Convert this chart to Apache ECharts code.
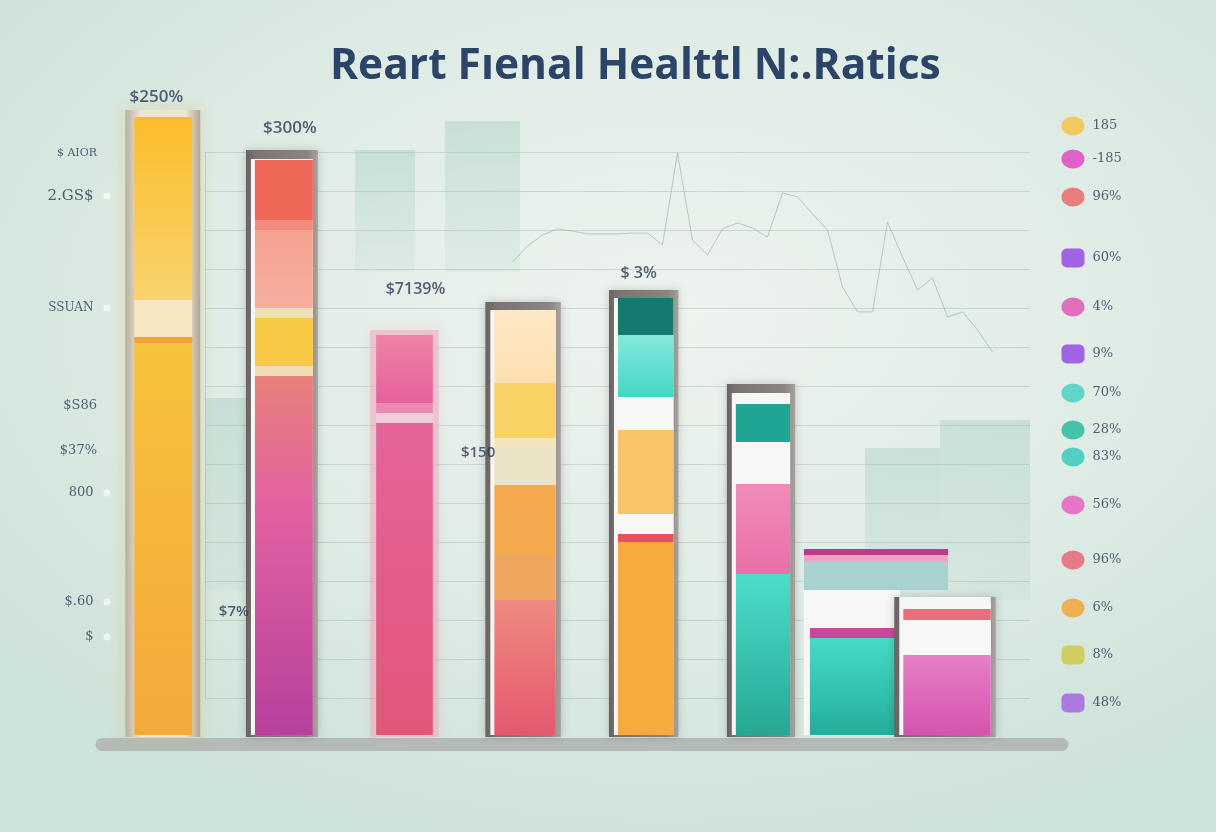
<!DOCTYPE html>
<html>
<head>
<meta charset="utf-8">
<title>Reart Fıenal Healttl N:.Ratics</title>
<script src="https://cdn.jsdelivr.net/npm/echarts@6/dist/echarts.min.js"></script>
<style>
  html, body { margin: 0; padding: 0; }
  body { background: radial-gradient(ellipse 70% 65% at 55% 38%, #eef3ee 0%, #dfece5 55%, #cde2d8 100%); }
  #chart { width: 1216px; height: 832px; }
</style>
</head>
<body>
<div id="chart"></div>
<script>
// ---- data -------------------------------------------------------------
const titleText = 'Reart Fıenal Healttl N:.Ratics';

const mainCategories = ['Q1', 'Q2', 'Q3', 'Q4', 'Q5'];
const groupCategories = ['G1', 'G2', 'G3'];

// stacked segment heights, bottom segment first
const yellowStack = [392, 6, 37, 183];
const roseStack = [359, 10, 48, 10, 78, 10, 60];
const pinkStack = [312, 10, 10, 68];
const amberStack = [135, 45, 70, 37, 10, 55, 73];
const orangeTealStack = [193, 8, 20, 84, 33, 62, 37];
const mintStack = [161, 90, 42, 38];
const wideStack = [97, 10, 38, 28, 7, 6];
const lowStack = [80, 35, 11, 6];
const frameTops = [625, 585, 405, 433, 445, 351, 186, 138];

// labels floating over the bars
const calloutTexts = ['$250%', '$300%', '$7139%', '$ 3%', '$150', '$7%'];
const calloutBars = [0, 1, 2, 4, 3, 1];
const calloutValues = [638, 607, 446, 462, 282, 123];

// left side scale labels
const leftTickLabels = ['$ AIOR', '2.GS$', 'SSUAN', '$S86', '$37%', '800', '$.60', '$'];
const leftTickValues = [582, 539, 427, 329, 284, 242, 133, 98];

// right side key
const keyTexts = ['185', '-185', '96%', '60%', '4%', '9%', '70%', '28%', '83%', '56%', '96%', '6%', '8%', '48%'];
const keyValues = [609, 576, 538, 477, 428, 381, 342, 305, 278, 230, 175, 127, 80, 32];

// faint background trend line and blocks
const bgBands = Array.from({length: 55}, (_, i) => 'b' + i);
const trendStart = 20;
const trendValues = [11.18, 11.59, 11.87, 12.03, 11.97, 11.9, 11.9, 11.9, 11.92, 11.92, 11.62, 13.97,
    11.74, 11.36, 12.03, 12.18, 12.05, 11.82, 12.95, 12.85, 12.41, 12.0, 10.54, 9.9, 9.9, 12.2,
    11.31, 10.46, 10.77, 9.77, 9.9, 9.44, 8.87];
const ghostBlocks = [
    [10, 13, 463, 585],
    [16, 20, 463, 614],
    [0, 2, 145, 337],
    [44, 48, 135, 287],
    [49, 54, 135, 315]
];

// ---- styles -----------------------------------------------------------
const vg = (top, bottom) => ({
    type: 'linear', x: 0, y: 0, x2: 0, y2: 1,
    colorStops: [{offset: 0, color: top}, {offset: 1, color: bottom}]
});
const stacks = [yellowStack, roseStack, pinkStack, amberStack, orangeTealStack, mintStack, wideStack, lowStack];
const palettes = [
    [vg('#f8c23a', '#f3a93c'), '#efa23a', '#f6e7c3', vg('#fbbd2c', '#f9d36e')],
    [{type: 'linear', x: 0, y: 0, x2: 0, y2: 1, colorStops: [
        {offset: 0, color: '#e8807a'}, {offset: 0.35, color: '#e262a0'}, {offset: 1, color: '#b8409e'}]},
        '#eedcb2', '#f7c844', '#eee0b6', vg('#f5a290', '#f6ae9e'), '#f08b7d', '#ee6656'],
    [vg('#e4649a', '#e2567a'), '#f3ccd7', '#ec88b6', vg('#ee82a6', '#e6619a')],
    [vg('#ef8a80', '#e4586f'), '#efa65e', '#f4aa4c', '#ece3c6', '#f3e5bb', '#f8d264', vg('#fde8c4', '#fde0b2')],
    ['#f5ab3e', '#e8515c', '#f7f7f5', '#f8c468', '#f7f7f5', vg('#85e8dd', '#42d6c4'), '#147a70'],
    [vg('#4ddccb', '#25a793'), vg('#f08bb9', '#e96fa8'), '#f7f7f5', '#20a595'],
    [vg('#46dbc6', '#23ad9b'), '#c7479b', '#f7f7f5', '#a9d1cf', '#f1a2c5', '#c2398b'],
    [vg('#e57fc8', '#d553ad'), '#f7f7f5', '#e96f7c', '#f6f6f4']
];
const barLooks = [
    {width: 0.48, frame: 'glow'},
    {width: 0.48, frame: 'dark', topPad: 9},
    {width: 0.47, frame: 'pink'},
    {width: 0.51, frame: 'dark', topPad: 8},
    {width: 0.46, frame: 'dark', topPad: 8},
    {width: 0.59, frame: 'dark', topPad: 9},
    {width: 0.98, frame: 'strip', wide: {from: 3, left: 6, right: 48}},
    {width: 0.95, frame: 'dark', topPad: 0}
];
const calloutOffsets = [[-7, 0], [6, 0], [11, 0], [-7, 0], [-47, 0], [-50, 0]];
const calloutSizes = [17, 17, 16, 16, 15, 15];
const leftLabelSizes = [11, 15, 12, 13, 13, 13, 13, 13];
const leftDots = [false, true, true, false, false, true, true, true];
const keyColors = ['#f8bf40', '#e040c0', '#ea6262', '#9040e0', '#e050b0', '#9040e0', '#40d0c0',
    '#20b898', '#30c8b8', '#e858c0', '#e86070', '#f5a030', '#d0c840', '#a060e0'];
const keySymbols = ['circle', 'circle', 'circle', 'roundRect', 'circle', 'roundRect', 'circle',
    'circle', 'circle', 'circle', 'circle', 'circle', 'roundRect', 'roundRect'];
const inkColor = '#2a3a57';

// ---- rendering --------------------------------------------------------
function renderStack(params, api) {
    const cat = api.value(0);
    const idx = api.value(1);
    const look = barLooks[idx];
    const band = api.size([1, 0])[0];
    const base = api.coord([cat, 0]);
    const w = band * look.width;
    const left = base[0] - w / 2;
    const y0 = base[1];
    const fy = api.coord([cat, frameTops[idx]])[1];
    const children = [];

    if (look.frame === 'dark') {
        children.push({
            type: 'rect',
            shape: {x: left - 9, y: fy, width: w + 14, height: y0 - fy + 2},
            style: {
                fill: {type: 'linear', x: 0, y: 0, x2: 1, y2: 0, colorStops: [
                    {offset: 0, color: '#6a6361'}, {offset: 0.15, color: '#7b7472'},
                    {offset: 0.85, color: '#8a8482'}, {offset: 1, color: '#a8a29f'}]},
                shadowBlur: 8, shadowColor: 'rgba(60,60,60,0.25)'
            }
        });
        children.push({
            type: 'rect',
            shape: {x: left - 4, y: fy + look.topPad, width: w + 4, height: y0 - fy - look.topPad},
            style: {fill: '#f6f7f5'}
        });
    } else if (look.frame === 'glow') {
        children.push({
            type: 'rect',
            shape: {x: left - 9, y: fy, width: w + 17, height: y0 - fy + 2},
            style: {
                fill: {type: 'linear', x: 0, y: 0, x2: 1, y2: 0, colorStops: [
                    {offset: 0, color: '#b8ae9d'}, {offset: 0.2, color: '#efe6d2'},
                    {offset: 0.8, color: '#efe6d2'}, {offset: 1, color: '#b0a694'}]},
                shadowBlur: 14, shadowColor: 'rgba(220,190,120,0.45)'
            }
        });
    } else if (look.frame === 'pink') {
        children.push({
            type: 'rect',
            shape: {x: left - 6, y: fy, width: w + 12, height: y0 - fy + 2},
            style: {fill: 'rgba(240,160,180,0.45)', shadowBlur: 12, shadowColor: 'rgba(240,140,170,0.4)'}
        });
    } else if (look.frame === 'strip') {
        children.push({
            type: 'rect',
            shape: {x: left - 6, y: fy, width: 6, height: y0 - fy},
            style: {fill: '#f6f7f5'}
        });
    }

    let acc = 0;
    stacks[idx].forEach((h, k) => {
        const yb = api.coord([cat, acc])[1];
        const yt = api.coord([cat, acc + h])[1];
        acc += h;
        let x = left;
        let ww = w;
        if (look.wide && k >= look.wide.from) {
            x = left - look.wide.left;
            ww = w + look.wide.left + look.wide.right;
        }
        children.push({
            type: 'rect',
            shape: {x: x, y: yt, width: ww, height: yb - yt},
            style: {fill: palettes[idx][k]}
        });
    });
    return {type: 'group', children: children};
}

function renderGhost(params, api) {
    const band = api.size([1, 0])[0];
    const p1 = api.coord([api.value(0), api.value(2)]);
    const p2 = api.coord([api.value(1), api.value(3)]);
    return {
        type: 'rect',
        shape: {x: p1[0] - band / 2, y: p2[1], width: p2[0] - p1[0] + band, height: p1[1] - p2[1]},
        style: {fill: vg('rgba(150,196,186,0.34)', 'rgba(150,196,186,0.1)')}
    };
}

const yScale = {type: 'value', min: 0, max: 640, show: false};

let chart = echarts.init(document.getElementById('chart'), null, {renderer: 'canvas'});

let option = {
    backgroundColor: 'transparent',
    animation: false,
    title: {
        text: titleText,
        left: 325,
        top: 40,
        textStyle: {fontFamily: 'Open Sans', fontWeight: 700, fontSize: 42.5, color: '#2b4468'}
    },
    grid: [
        {left: 205, right: 186, top: 152, bottom: 134},
        {left: 103, width: 603, top: 95, bottom: 97},
        {left: 717, width: 276, top: 95, bottom: 97},
        {left: 100, width: 14, top: 95, bottom: 97},
        {left: 1062, width: 22, top: 95, bottom: 97},
        {left: 102, width: 960, top: 700, bottom: 88}
    ],
    xAxis: [
        {type: 'category', gridIndex: 0, data: bgBands, show: false},
        {type: 'category', gridIndex: 1, data: mainCategories, show: false},
        {type: 'category', gridIndex: 2, data: groupCategories, show: false},
        {type: 'category', gridIndex: 3, data: ['L'], show: false},
        {type: 'category', gridIndex: 4, data: ['K'], show: false},
        {
            type: 'category', gridIndex: 5, data: [''],
            axisLine: {show: true, lineStyle: {width: 13, color: '#b3bab7', cap: 'round'}},
            axisTick: {show: false}, axisLabel: {show: false}
        }
    ],
    yAxis: [
        {
            type: 'value', gridIndex: 0, min: 0, max: 14, interval: 1,
            axisLine: {show: true, lineStyle: {color: 'rgba(140,170,165,0.45)'}},
            axisTick: {show: false}, axisLabel: {show: false},
            splitLine: {show: true, lineStyle: {color: 'rgba(140,170,165,0.35)', width: 1}}
        },
        {type: 'value', gridIndex: 0, min: 37, max: 583, show: false},
        Object.assign({gridIndex: 1}, yScale),
        Object.assign({gridIndex: 2}, yScale),
        Object.assign({gridIndex: 3}, yScale),
        Object.assign({gridIndex: 4}, yScale),
        {type: 'value', gridIndex: 5, show: false}
    ],
    series: [
        {
            type: 'custom',
            xAxisIndex: 0, yAxisIndex: 1,
            renderItem: renderGhost,
            data: ghostBlocks,
            z: 1,
            silent: true
        },
        {
            type: 'line',
            xAxisIndex: 0, yAxisIndex: 0,
            data: bgBands.map((_, i) => {
                const k = i - trendStart;
                return k >= 0 && k < trendValues.length ? trendValues[k] : null;
            }),
            showSymbol: false,
            lineStyle: {color: 'rgba(130,160,155,0.5)', width: 1},
            z: 2,
            silent: true
        },
        {
            type: 'custom',
            xAxisIndex: 1, yAxisIndex: 2,
            renderItem: renderStack,
            data: mainCategories.map((c, i) => [i, i]),
            z: 3
        },
        {
            type: 'custom',
            xAxisIndex: 2, yAxisIndex: 3,
            renderItem: renderStack,
            data: groupCategories.map((c, i) => [i, mainCategories.length + i]),
            z: 3
        },
        {
            type: 'scatter',
            xAxisIndex: 1, yAxisIndex: 2,
            symbolSize: 0,
            z: 5,
            data: calloutTexts.map((t, i) => ({
                value: [calloutBars[i], calloutValues[i]],
                label: {
                    show: true, position: 'inside', formatter: t,
                    offset: calloutOffsets[i], fontSize: calloutSizes[i],
                    fontFamily: 'Open Sans', fontWeight: 600, color: inkColor
                }
            }))
        },
        {
            type: 'scatter',
            xAxisIndex: 3, yAxisIndex: 4,
            z: 5,
            data: leftTickLabels.map((t, i) => ({
                value: [0, leftTickValues[i]],
                symbolSize: leftDots[i] ? 7 : 0,
                itemStyle: {color: 'rgba(255,255,255,0.75)'},
                label: {
                    show: true, position: 'left', distance: 10, formatter: t,
                    fontSize: leftLabelSizes[i], fontFamily: 'DejaVu Serif', color: inkColor
                }
            }))
        },
        {
            type: 'scatter',
            xAxisIndex: 4, yAxisIndex: 5,
            z: 5,
            data: keyTexts.map((t, i) => ({
                value: [0, keyValues[i]],
                symbol: keySymbols[i],
                symbolSize: [23, 19],
                itemStyle: {color: keyColors[i]},
                label: {
                    show: true, position: 'right', distance: 8, formatter: t,
                    fontSize: 13, fontFamily: 'DejaVu Serif', color: inkColor
                }
            }))
        }
    ]
};
chart.setOption(option);
</script>
</body>
</html>
